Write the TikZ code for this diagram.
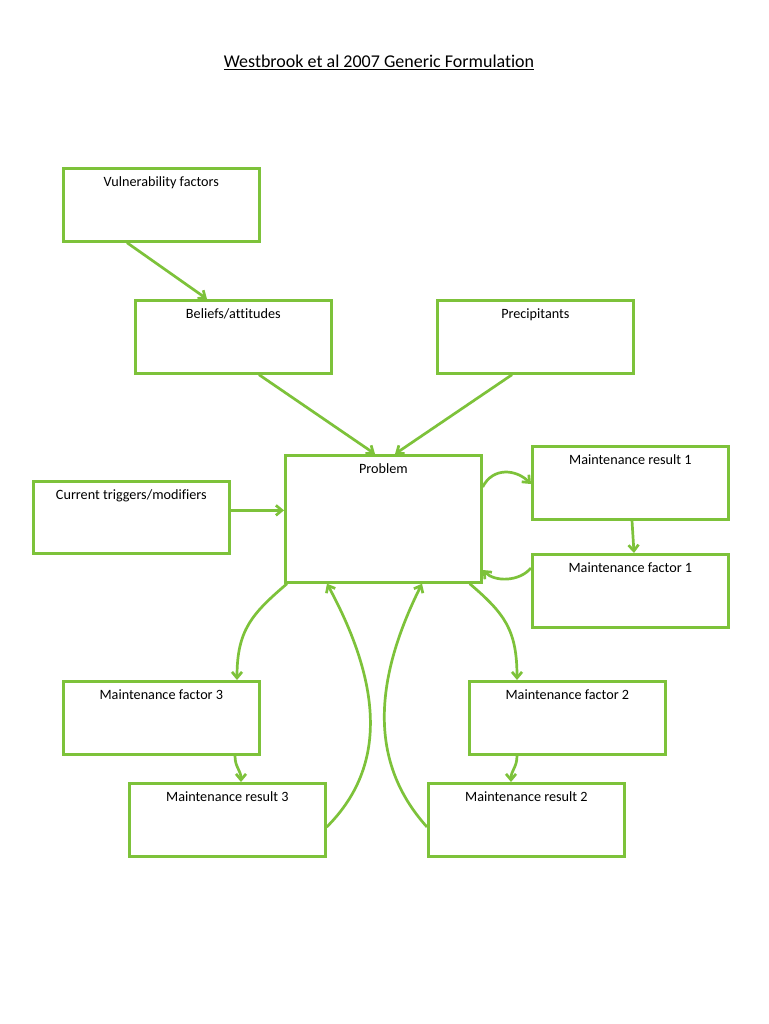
\documentclass[tikz,border=0pt]{standalone}
\usepackage{fontspec}
\setmainfont{Carlito}[Ligatures=NoCommon]
\usetikzlibrary{arrows.meta}

\definecolor{boxgreen}{RGB}{125,194,58}

\begin{document}
\begin{tikzpicture}[x=1pt, y=-1pt,
  box/.style={draw=boxgreen, line width=2.7pt, anchor=north west, inner sep=3pt,
    minimum width=196pt, text height=15pt, text depth=52pt,
    font=\fontsize{14.2}{16}\selectfont},
  link/.style={draw=boxgreen, line width=2.7pt, -{Straight Barb[length=6pt, width=10pt]}}]

  % Page frame
  \useasboundingbox[fill=white] (0,0) rectangle (768,1024);

  % Title
  \node[anchor=base, font=\fontsize{18}{20}\selectfont] (title) at (379,68)
    {\underline{Westbrook et al 2007 Generic Formulation}};

  % Draw the boxes
  \node[box] (vuln) at (62,167) {Vulnerability factors};
  \node[box] (belief) at (134,299) {Beliefs/attitudes};
  \node[box] (precip) at (436,299) {Precipitants};
  \node[box, text depth=106pt] (prob) at (284,454) {Problem};
  \node[box, text depth=51pt] (trig) at (32,480) {Current triggers/modifiers};
  \node[box] (mres1) at (531,445) {Maintenance result 1};
  \node[box] (mfac1) at (531,553) {Maintenance factor 1};
  \node[box] (mfac3) at (62,680) {Maintenance factor 3};
  \node[box] (mfac2) at (468,680) {Maintenance factor 2};
  \node[box] (mres3) at (128,782) {Maintenance result 3};
  \node[box] (mres2) at (427,782) {Maintenance result 2};

  % Straight arrows into the problem
  \draw[link] ([xshift=65pt]vuln.south west) -- ([xshift=73pt]belief.north west);
  \draw[link] ([xshift=125pt]belief.south west) -- ([xshift=91pt]prob.north west);
  \draw[link] ([xshift=76pt]precip.south west) -- ([xshift=111pt]prob.north west);
  \draw[link] ([yshift=7pt]trig.east) -- ([yshift=8.5pt]prob.west);

  % Maintenance cycle 1
  \draw[link] ([yshift=-33pt]prob.north east) .. controls +(10,-20) and +(-15,-15) .. ([yshift=-39pt]mres1.north west);
  \draw[link] ([xshift=101pt]mres1.south west) -- ([xshift=103pt]mfac1.north west);
  \draw[link] ([yshift=-15pt]mfac1.north west) .. controls +(-12,14) and +(12,12) .. ([yshift=-116pt]prob.north east);

  % Maintenance cycle 3
  \draw[link] ([xshift=3pt]prob.south west) .. controls +(-35,30) and +(0,-50) .. ([xshift=175pt]mfac3.north west);
  \draw[link] ([xshift=173pt]mfac3.south west) .. controls +(0,12) and +(0,-12) .. ([xshift=113pt]mres3.north west);
  \draw[link] ([yshift=-45pt]mres3.north east) .. controls +(50,-50) and +(65,120) .. ([xshift=43pt]prob.south west);

  % Maintenance cycle 2
  \draw[link] ([xshift=-13pt]prob.south east) .. controls +(35,30) and +(0,-50) .. ([xshift=49pt]mfac2.north west);
  \draw[link] ([xshift=49pt]mfac2.south west) .. controls +(0,12) and +(0,-12) .. ([xshift=84pt]mres2.north west);
  \draw[link] ([yshift=-45pt]mres2.north west) .. controls +(-45,-50) and +(-60,120) .. ([xshift=138pt]prob.south west);

\end{tikzpicture}
\end{document}
